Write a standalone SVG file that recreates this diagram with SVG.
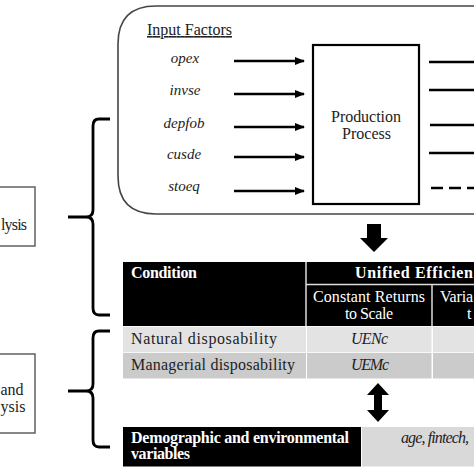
<svg xmlns="http://www.w3.org/2000/svg" width="474" height="474" viewBox="0 0 474 474">
<defs>
<style>
.t{font-family:"Liberation Serif","DejaVu Serif",serif;fill:#222;font-size:16px}
.it{font-style:italic}
.lb{font-size:15px;text-anchor:middle}
.b{font-weight:bold;fill:#fff}
.w{fill:#fff}
.ln{stroke:#000;stroke-width:2.5;fill:none}
.br{stroke:#000;stroke-width:2.8;fill:none;stroke-linejoin:round}
</style>
<marker id="ah" markerWidth="10" markerHeight="8" refX="9" refY="4" orient="auto" markerUnits="userSpaceOnUse">
<path d="M0,0 L10,4 L0,8 Z" fill="#000"/>
</marker>
</defs>
<rect width="474" height="474" fill="#fff"/>

<g id="process-panel">
<path d="M500,6 H156 Q118,6 118,44 V176 Q118,214 156,214 H500" fill="none" stroke="#444" stroke-width="1.6"/>
<text class="t" x="147" y="35" textLength="85" text-decoration="underline">Input Factors</text>
</g>

<g id="input-factors">
<text class="t it lb" x="185" y="63">opex</text>
<text class="t it lb" x="185" y="95">invse</text>
<text class="t it lb" x="184" y="128">depfob</text>
<text class="t it lb" x="184" y="159">cusde</text>
<text class="t it lb" x="184" y="191">stoeq</text>
</g>

<g id="production-process">
<rect x="313" y="45" width="106" height="159" fill="#fff" stroke="#000" stroke-width="2.2"/>
<text class="t" x="331" y="122" textLength="70">Production</text>
<text class="t" x="342" y="139" textLength="49">Process</text>
</g>

<g id="connectors">
<line class="ln" x1="234" y1="61" x2="304" y2="61" marker-end="url(#ah)"/>
<line class="ln" x1="234" y1="94" x2="304" y2="94" marker-end="url(#ah)"/>
<line class="ln" x1="234" y1="127" x2="304" y2="127" marker-end="url(#ah)"/>
<line class="ln" x1="234" y1="157" x2="304" y2="157" marker-end="url(#ah)"/>
<line class="ln" x1="234" y1="191" x2="304" y2="191" marker-end="url(#ah)"/>
<line class="ln" x1="429" y1="62" x2="480" y2="62"/>
<line class="ln" x1="429" y1="90" x2="480" y2="90"/>
<line class="ln" x1="430" y1="125" x2="480" y2="125"/>
<line class="ln" x1="429" y1="153" x2="480" y2="153"/>
<line class="ln" x1="431" y1="188" x2="480" y2="188" stroke-dasharray="12,6"/>
<path d="M367,224 H381 V238 H388 L374,252 L360,238 H367 Z" fill="#000"/>
<path d="M378,383 L389,395 H382 V410 H389 L378,422 L367,410 H374 V395 H367 Z" fill="#000"/>
<path class="br" d="M110,119 H99 Q93,119 93,126 V210 Q93,217 86,217 H68 M86,217 Q93,217 93,224 V308 Q93,315 99,315 H110"/>
<path class="br" d="M110,331 H99 Q93,331 93,338 V384 Q93,391 86,391 H68 M86,391 Q93,391 93,398 V440 Q93,447 99,447 H110"/>
</g>

<g id="analysis-box-1">
<rect x="-5" y="187" width="40" height="59" fill="#fff" stroke="#555" stroke-width="1.4"/>
<text class="t" x="1" y="230" textLength="26">lysis</text>
</g>

<g id="analysis-box-2">
<rect x="-5" y="354" width="40" height="79" fill="#fff" stroke="#555" stroke-width="1.4"/>
<text class="t" x="0.5" y="395">and</text>
<text class="t" x="0.5" y="412">ysis</text>
</g>

<g id="efficiency-table">
<rect x="123" y="262" width="360" height="64" fill="#000"/>
<line x1="306" y1="262" x2="306" y2="326" stroke="#ddd" stroke-width="1.5"/>
<line x1="306" y1="284.5" x2="480" y2="284.5" stroke="#ddd" stroke-width="1.5"/>
<line x1="432" y1="284.5" x2="432" y2="326" stroke="#ddd" stroke-width="1.5"/>
<rect x="123" y="326.8" width="183" height="25.5" fill="#e3e3e3"/>
<rect x="307" y="326.8" width="124.5" height="25.5" fill="#e3e3e3"/>
<rect x="433" y="326.8" width="50" height="25.5" fill="#e3e3e3"/>
<rect x="123" y="353" width="183" height="25.5" fill="#cbcbcb"/>
<rect x="307" y="353" width="124.5" height="25.5" fill="#cbcbcb"/>
<rect x="433" y="353" width="50" height="25.5" fill="#cbcbcb"/>
<text class="t b" x="131" y="278" textLength="66">Condition</text>
<text class="t b" x="355" y="278" textLength="118">Unified Efficien</text>
<text class="t w" x="313" y="302" textLength="112">Constant Returns</text>
<text class="t w" x="345" y="319" textLength="48">to Scale</text>
<text class="t w" x="440" y="302" textLength="33">Varia</text>
<text class="t w" x="467" y="319">t</text>
<text class="t" x="131" y="344" textLength="146">Natural disposability</text>
<text class="t" x="131" y="370" textLength="164">Managerial disposability</text>
<text class="t it" x="351" y="344" textLength="37">UENc</text>
<text class="t it" x="351" y="370" textLength="38">UEMc</text>
</g>

<g id="demographic-table">
<rect x="123" y="427" width="238" height="39.5" fill="#000"/>
<rect x="362" y="427" width="120" height="39.5" fill="#d9d9d9"/>
<text class="t b" x="131" y="443" textLength="218">Demographic and environmental</text>
<text class="t b" x="131" y="459" textLength="59">variables</text>
<text class="t it" x="401" y="443" font-size="14.5" textLength="68">age, fintech,</text>
</g>
</svg>
